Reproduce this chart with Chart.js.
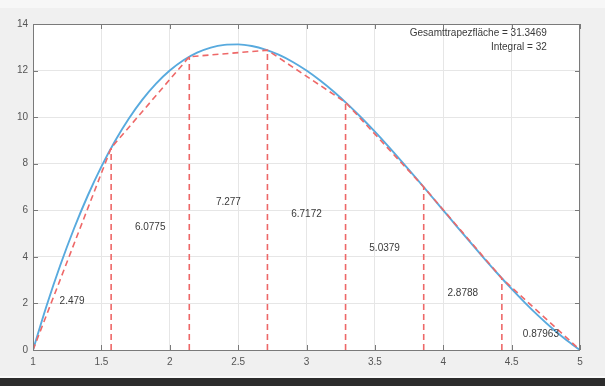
<!DOCTYPE html>
<html>
<head>
<meta charset="utf-8">
<script src="https://cdn.jsdelivr.net/npm/chart.js@4/dist/chart.umd.min.js"></script>
<style>
  html, body { margin: 0; padding: 0; background: #f0f0f0; }
  canvas { display: block; }
</style>
</head>
<body>
<canvas id="c" width="605" height="386"></canvas>
<script>
// ---- data ----
const curveX = [1.0,1.1,1.2,1.3,1.4,1.5,1.6,1.7,1.8,1.9,2.0,2.1,2.2,2.3,2.4,2.5,2.6,2.7,2.8,2.9,3.0,
                3.1,3.2,3.3,3.4,3.5,3.6,3.7,3.8,3.9,4.0,4.1,4.2,4.3,4.4,4.5,4.6,4.7,4.8,4.9,5.0];
const curveY = [0,1.911,3.648,5.217,6.624,7.875,8.976,9.933,10.752,11.439,12.0,12.441,12.768,12.987,13.104,13.125,
                13.056,12.903,12.672,12.369,12.0,11.571,11.088,10.557,9.984,9.375,8.736,8.073,7.392,6.699,6.0,
                5.301,4.608,3.927,3.264,2.625,2.016,1.443,0.912,0.429,0];
const nodeX = [1, 1.5714, 2.1429, 2.7143, 3.2857, 3.8571, 4.4286, 5];
const nodeY = [0, 8.677, 12.594, 12.876, 10.634, 7.0, 3.077, 0];
const areaLabels = ['2.479','6.0775','7.277','6.7172','5.0379','2.8788','0.87963'];
const labelX = [1.286, 1.857, 2.429, 3.0, 3.571, 4.143, 4.714];
const labelY = [2.09, 5.26, 6.33, 5.83, 4.35, 2.43, 0.67];
const infoText = ['Gesamttrapezfläche = 31.3469', 'Integral = 32'];
const infoX = 4.757;
const infoY = [13.6, 13.02];
const xTicks = [1, 1.5, 2, 2.5, 3, 3.5, 4, 4.5, 5];
const yTicks = [0, 2, 4, 6, 8, 10, 12, 14];

// ---- styles ----
const BLUE = 'rgb(88,170,222)';
const RED = 'rgb(238,104,104)';
const FONT = '"Liberation Sans", Arial, sans-serif';

const curveData = curveX.map((x, i) => ({ x: x, y: curveY[i] }));
const trapData = nodeX.map((x, i) => ({ x: x, y: nodeY[i] }));

const datasets = [
  { label: 'trap', data: trapData, borderColor: RED, borderWidth: 1.6, borderDash: [6, 4],
    pointRadius: 0, tension: 0, order: 0 },
  { label: 'f', data: curveData, borderColor: BLUE, borderWidth: 1.9, pointRadius: 0,
    cubicInterpolationMode: 'monotone', order: 2 }
];
for (let i = 1; i < nodeX.length - 1; i++) {
  datasets.push({ label: 'v' + i, data: [{ x: nodeX[i], y: 0 }, { x: nodeX[i], y: nodeY[i] }],
    borderColor: RED, borderWidth: 1.6, borderDash: [6, 4], pointRadius: 0, order: 1 });
}

const framePlugin = {
  id: 'frame',
  beforeDraw(chart) {
    const ctx = chart.ctx, a = chart.chartArea;
    ctx.save();
    ctx.fillStyle = '#f0f0f0';
    ctx.fillRect(0, 0, chart.width, chart.height);
    ctx.fillStyle = '#f7f7f7';
    ctx.fillRect(0, 0, chart.width, 8);
    ctx.fillStyle = '#fafafa';
    ctx.fillRect(0, 376, chart.width, 2);
    ctx.fillStyle = '#2c2c2c';
    ctx.fillRect(0, 378, chart.width, chart.height - 378);
    ctx.fillStyle = '#ffffff';
    ctx.fillRect(a.left, a.top, a.right - a.left, a.bottom - a.top);
    ctx.restore();
  },
  afterDatasetsDraw(chart) {
    const ctx = chart.ctx, a = chart.chartArea;
    const xs = chart.scales.x, ys = chart.scales.y;
    ctx.save();
    // box
    ctx.strokeStyle = '#7a7a7a';
    ctx.lineWidth = 1;
    ctx.strokeRect(a.left + 0.5, a.top + 0.5, a.right - a.left - 1, a.bottom - a.top);
    // inward ticks
    ctx.beginPath();
    xTicks.forEach(v => {
      const p = Math.round(xs.getPixelForValue(v)) + 0.5;
      ctx.moveTo(p, a.bottom); ctx.lineTo(p, a.bottom - 5);
      ctx.moveTo(p, a.top); ctx.lineTo(p, a.top + 5);
    });
    yTicks.forEach(v => {
      const p = Math.round(ys.getPixelForValue(v)) + 0.5;
      ctx.moveTo(a.left, p); ctx.lineTo(a.left + 5, p);
      ctx.moveTo(a.right, p); ctx.lineTo(a.right - 5, p);
    });
    ctx.stroke();
    // area labels
    ctx.fillStyle = '#3a3a3a';
    ctx.font = '10px ' + FONT;
    ctx.textAlign = 'center';
    ctx.textBaseline = 'middle';
    areaLabels.forEach((t, i) => {
      ctx.fillText(t, xs.getPixelForValue(labelX[i]), ys.getPixelForValue(labelY[i]));
    });
    // info text
    ctx.textAlign = 'right';
    infoText.forEach((t, i) => {
      ctx.fillText(t, xs.getPixelForValue(infoX), ys.getPixelForValue(infoY[i]));
    });
    ctx.restore();
  }
};

new Chart(document.getElementById('c'), {
  type: 'line',
  data: { datasets: datasets },
  options: {
    responsive: false,
    animation: false,
    layout: { padding: { left: 0, top: 24, right: 25, bottom: 8 } },
    plugins: { legend: { display: false }, tooltip: { enabled: false } },
    scales: {
      x: {
        type: 'linear', min: 1, max: 5,
        afterBuildTicks: s => { s.ticks = xTicks.map(v => ({ value: v })); },
        afterFit: s => { s.height = 28; },
        ticks: { color: '#555', font: { family: FONT, size: 10 }, padding: 6,
                 maxRotation: 0, autoSkip: false, callback: v => String(v) },
        grid: { color: '#e6e6e6', drawTicks: false },
        border: { display: false }
      },
      y: {
        type: 'linear', min: 0, max: 14,
        afterBuildTicks: s => { s.ticks = yTicks.map(v => ({ value: v })); },
        afterFit: s => { s.width = 33; },
        ticks: { color: '#555', font: { family: FONT, size: 10 }, padding: 5,
                 autoSkip: false, callback: v => String(v) },
        grid: { color: '#e6e6e6', drawTicks: false },
        border: { display: false }
      }
    }
  },
  plugins: [framePlugin]
});
</script>
</body>
</html>
